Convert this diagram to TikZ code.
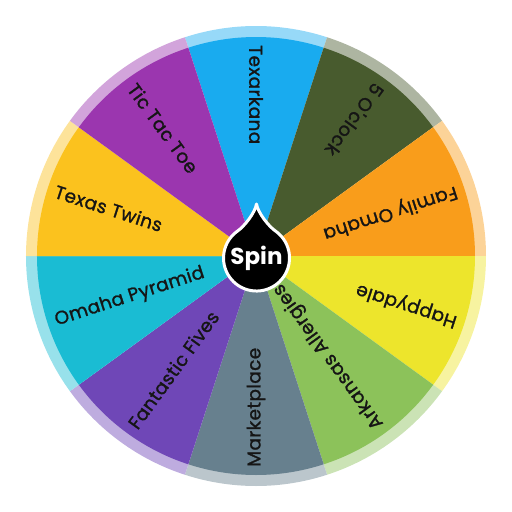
\documentclass[tikz,border=0pt]{standalone}
\usepackage{fontspec}
\setmainfont{Poppins}
\newfontfamily\segfont{Poppins}[FakeBold=1.3, LetterSpace=2]
\definecolor{cA}{HTML}{19ABEF}
\definecolor{cB}{HTML}{485B2E}
\definecolor{cC}{HTML}{F99D1B}
\definecolor{cD}{HTML}{EDE52C}
\definecolor{cE}{HTML}{8CC25A}
\definecolor{cF}{HTML}{67808E}
\definecolor{cG}{HTML}{6F47B7}
\definecolor{cH}{HTML}{1ABCD3}
\definecolor{cI}{HTML}{FBC21E}
\definecolor{cJ}{HTML}{9B36AF}
\definecolor{labelink}{HTML}{151515}
\begin{document}
\begin{tikzpicture}[x=1pt,y=1pt,
  seglabel/.style={font=\segfont\fontsize{18.5}{18.5}\selectfont, text=labelink, inner sep=0pt, anchor=west},
  spinlabel/.style={font=\bfseries\fontsize{23}{23}\selectfont, text=white, inner sep=0pt},
  knob/.style={fill=black, draw=white, line width=3pt, line join=round}
]
\useasboundingbox (-256,-256) rectangle (256,256);
\foreach \nm/\col/\ang/\txt in {
  texarkana/cA/90/Texarkana,
  oclock/cB/54/5 O'clock,
  family/cC/18/Family Omaha,
  happy/cD/-18/Happydale,
  arkansas/cE/-54/Arkansas Allergies,
  market/cF/-90/Marketplace,
  fantastic/cG/-126/Fantastic Fives,
  pyramid/cH/-162/Omaha Pyramid,
  twins/cI/162/Texas Twins,
  tictac/cJ/126/Tic Tac Toe}{
  \pgfmathsetmacro\sa{\ang-18}
  \pgfmathsetmacro\ea{\ang+18}
  \pgfmathsetmacro\rot{\ang+180}
  \fill[\col!45!white] (0,0) -- (\sa:230) arc[start angle=\sa, end angle=\ea, radius=230] -- cycle;
  \fill[\col] (0,0) -- (\sa:219) arc[start angle=\sa, end angle=\ea, radius=219] -- cycle;
  \node[seglabel, rotate=\rot] (\nm) at (\ang:211) {\txt};
}
\filldraw[knob] (0.5,52) .. controls (-1,43) and (-11.8,29.6) .. (-18.4,25)
  arc[start angle=125, end angle=415, radius=33]
  .. controls (12.8,29.6) and (2,43) .. cycle;
\node[spinlabel] (spin) at (0.5,-2) {Spin};
\end{tikzpicture}
\end{document}
